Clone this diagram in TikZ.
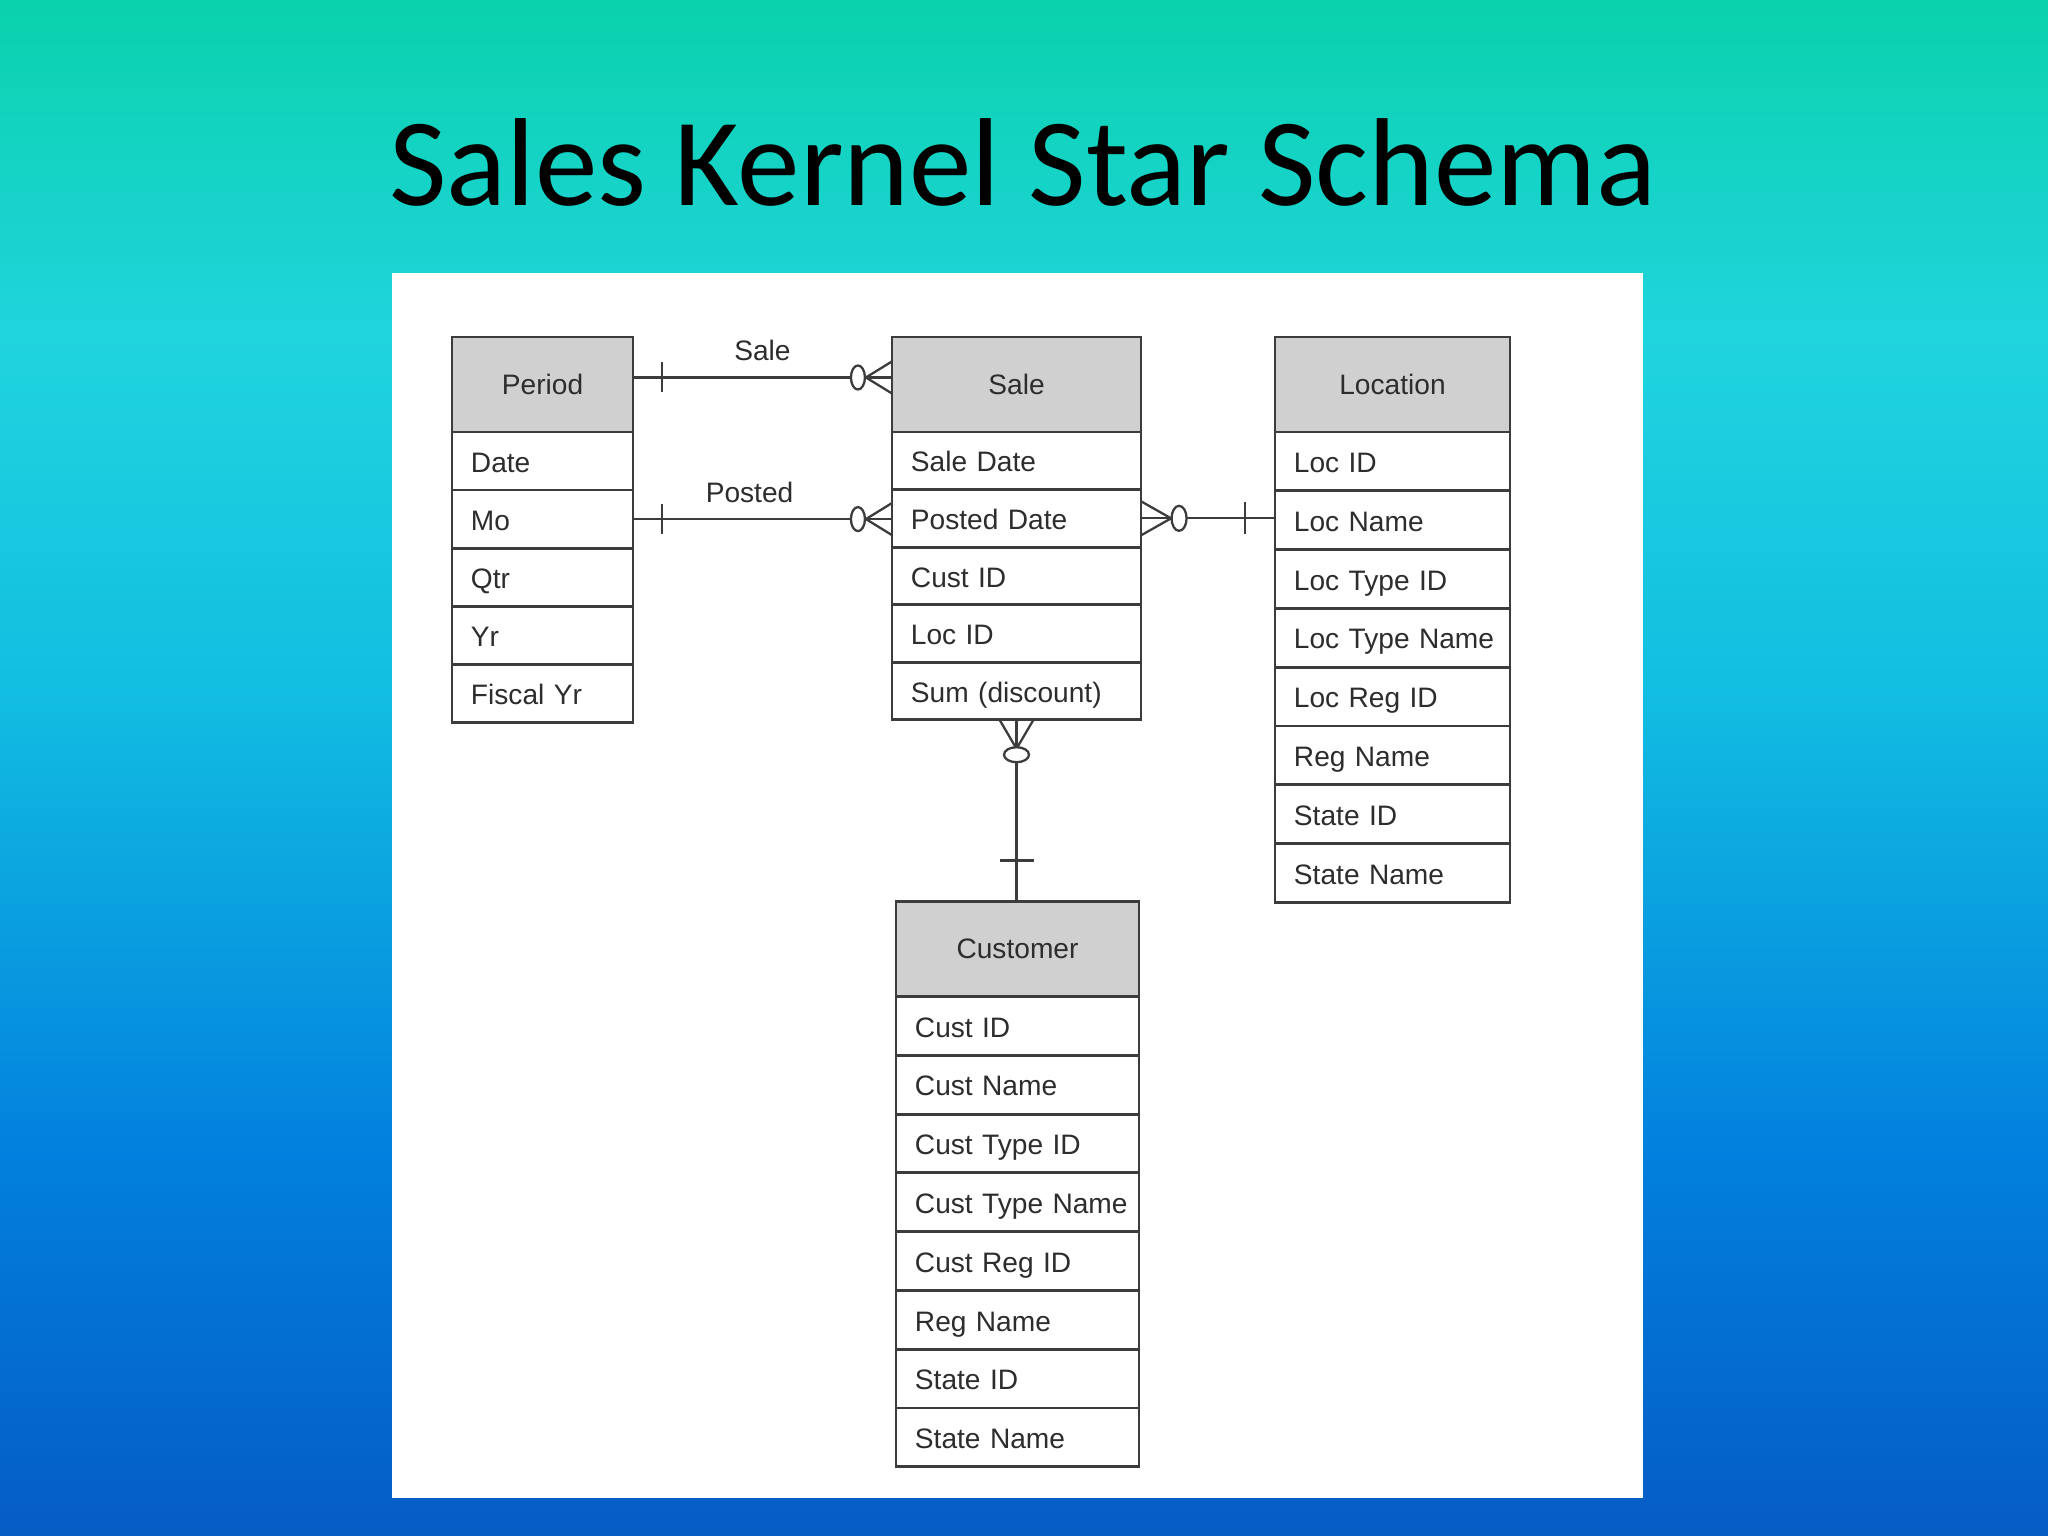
\documentclass[tikz,border=0pt]{standalone}
\usepackage{fontspec}
\setmainfont{Liberation Sans}
\newfontfamily\titlefont{Carlito}
\newcommand\tblfont{\fontsize{8}{9.6}\selectfont}
\usetikzlibrary{positioning,calc}

\definecolor{bgtop}{RGB}{10,210,172}
\definecolor{bgcyan}{RGB}{32,212,222}
\definecolor{bgmid}{RGB}{18,190,225}
\definecolor{bgblue}{RGB}{2,128,222}
\definecolor{bgbot}{RGB}{5,92,196}
\definecolor{headgray}{RGB}{208,208,208}
\definecolor{linegray}{RGB}{60,60,60}
\definecolor{textgray}{RGB}{45,45,45}

% the path box is mapped onto 25bp--75bp of the shading
\pgfdeclareverticalshading{slide}{100bp}{color(0bp)=(bgbot); color(25bp)=(bgbot); color(37.5bp)=(bgblue); color(52.5bp)=(bgmid); color(64bp)=(bgcyan); color(75bp)=(bgtop); color(100bp)=(bgtop)}

\begin{document}
\begin{tikzpicture}[x=0.01cm, y=-0.01cm,
  ent/.style={draw=linegray, line width=0.8pt, fill=headgray, text=textgray, font=\tblfont, minimum height=0.95cm, inner sep=0pt, outer sep=0pt},
  attr/.style={draw=linegray, line width=0.8pt, fill=white, text=textgray, font=\tblfont, minimum height=#1, inner xsep=0.19cm, inner ysep=0pt, outer sep=0pt, align=left, text height=1.6ex, text depth=0.4ex},
  rel/.style={draw=linegray, line width=0.65pt},
  lbl/.style={text=textgray, font=\tblfont}]
\useasboundingbox (0,0) rectangle (2048,1536);

% Slide background and panel
\shade[shading=slide] (0,0) rectangle (2048,1536);
\fill[white] (392,273) rectangle (1643,1498);
\node[font=\titlefont\fontsize{35.6}{42}\selectfont, anchor=base] (title) at (1023,205) {Sales Kernel Star Schema};

% Period
\node[ent, minimum width=1.81cm] (period-0) at (542.5,384.5) {Period};
\foreach \f [count=\i, remember=\i as \j (initially 0)] in {Date, Mo, Qtr, Yr, Fiscal Yr}
  \node[attr=0.58cm, text width=1.43cm, below=0pt of period-\j] (period-\i) {\mbox{\f}};

% Sale
\node[ent, minimum width=2.49cm] (sale-0) at (1016.5,384.5) {Sale};
\foreach \f [count=\i, remember=\i as \j (initially 0)] in {Sale Date, Posted Date, Cust ID, Loc ID, Sum (discount)}
  \node[attr=0.575cm, text width=2.11cm, below=0pt of sale-\j] (sale-\i) {\mbox{\f}};

% Location
\node[ent, minimum width=2.35cm] (loc-0) at (1392.5,384.5) {Location};
\foreach \f [count=\i, remember=\i as \j (initially 0)] in {Loc ID, Loc Name, Loc Type ID, Loc Type Name, Loc Reg ID, Reg Name, State ID, State Name}
  \node[attr=0.5875cm, text width=1.97cm, below=0pt of loc-\j] (loc-\i) {\mbox{\f}};

% Customer
\node[ent, minimum width=2.43cm] (cust-0) at (1017.5,949) {Customer};
\foreach \f [count=\i, remember=\i as \j (initially 0)] in {Cust ID, Cust Name, Cust Type ID, Cust Type Name, Cust Reg ID, Reg Name, State ID, State Name}
  \node[attr=0.5875cm, text width=2.05cm, below=0pt of cust-\j] (cust-\i) {\mbox{\f}};

% Sale relationship
\draw[rel] ([yshift=2pt]period-0.east) coordinate (ps1) -- (ps1 -| sale-0.west) coordinate (ps2)
  node[lbl, midway, above=1pt] {Sale};
\draw[rel] ($(ps1)+(29,-15)$) -- ($(ps1)+(29,15)$);
\draw[rel] ($(ps2)+(0,-16)$) -- ($(ps2)+(-26,0)$) -- ($(ps2)+(0,16)$);
\draw[rel, fill=white] ($(ps2)+(-34,0)$) ellipse [x radius=7, y radius=12];

% Posted relationship
\draw[rel] (period-2.east) coordinate (pp1) -- (pp1 -| sale-2.west) coordinate (pp2)
  node[lbl, pos=0.45, above=1pt] {Posted};
\draw[rel] ($(pp1)+(29,-15)$) -- ($(pp1)+(29,15)$);
\draw[rel] ($(pp2)+(0,-16)$) -- ($(pp2)+(-26,0)$) -- ($(pp2)+(0,16)$);
\draw[rel, fill=white] ($(pp2)+(-34,0)$) ellipse [x radius=7, y radius=12];

% Sale to Location
\draw[rel] (sale-2.east) coordinate (sl1) -- (sl1 -| loc-2.west) coordinate (sl2);
\draw[rel] ($(sl1)+(0,-17)$) -- ($(sl1)+(30,0)$) -- ($(sl1)+(0,17)$);
\draw[rel, fill=white] ($(sl1)+(38,0)$) ellipse [x radius=7.5, y radius=12.5];
\draw[rel] ($(sl2)+(-30,-16)$) -- ($(sl2)+(-30,16)$);

% Sale to Customer
\draw[rel] (sale-5.south) coordinate (sc1) -- (sc1 |- cust-0.north) coordinate (sc2);
\draw[rel] ($(sc1)+(-17,0)$) -- ($(sc1)+(0,29)$) -- ($(sc1)+(17,0)$);
\draw[rel, fill=white] ($(sc1)+(0,35)$) ellipse [x radius=12.5, y radius=7.5];
\draw[rel] ($(sc2)+(-17,-41)$) -- ($(sc2)+(17,-41)$);
\end{tikzpicture}
\end{document}
